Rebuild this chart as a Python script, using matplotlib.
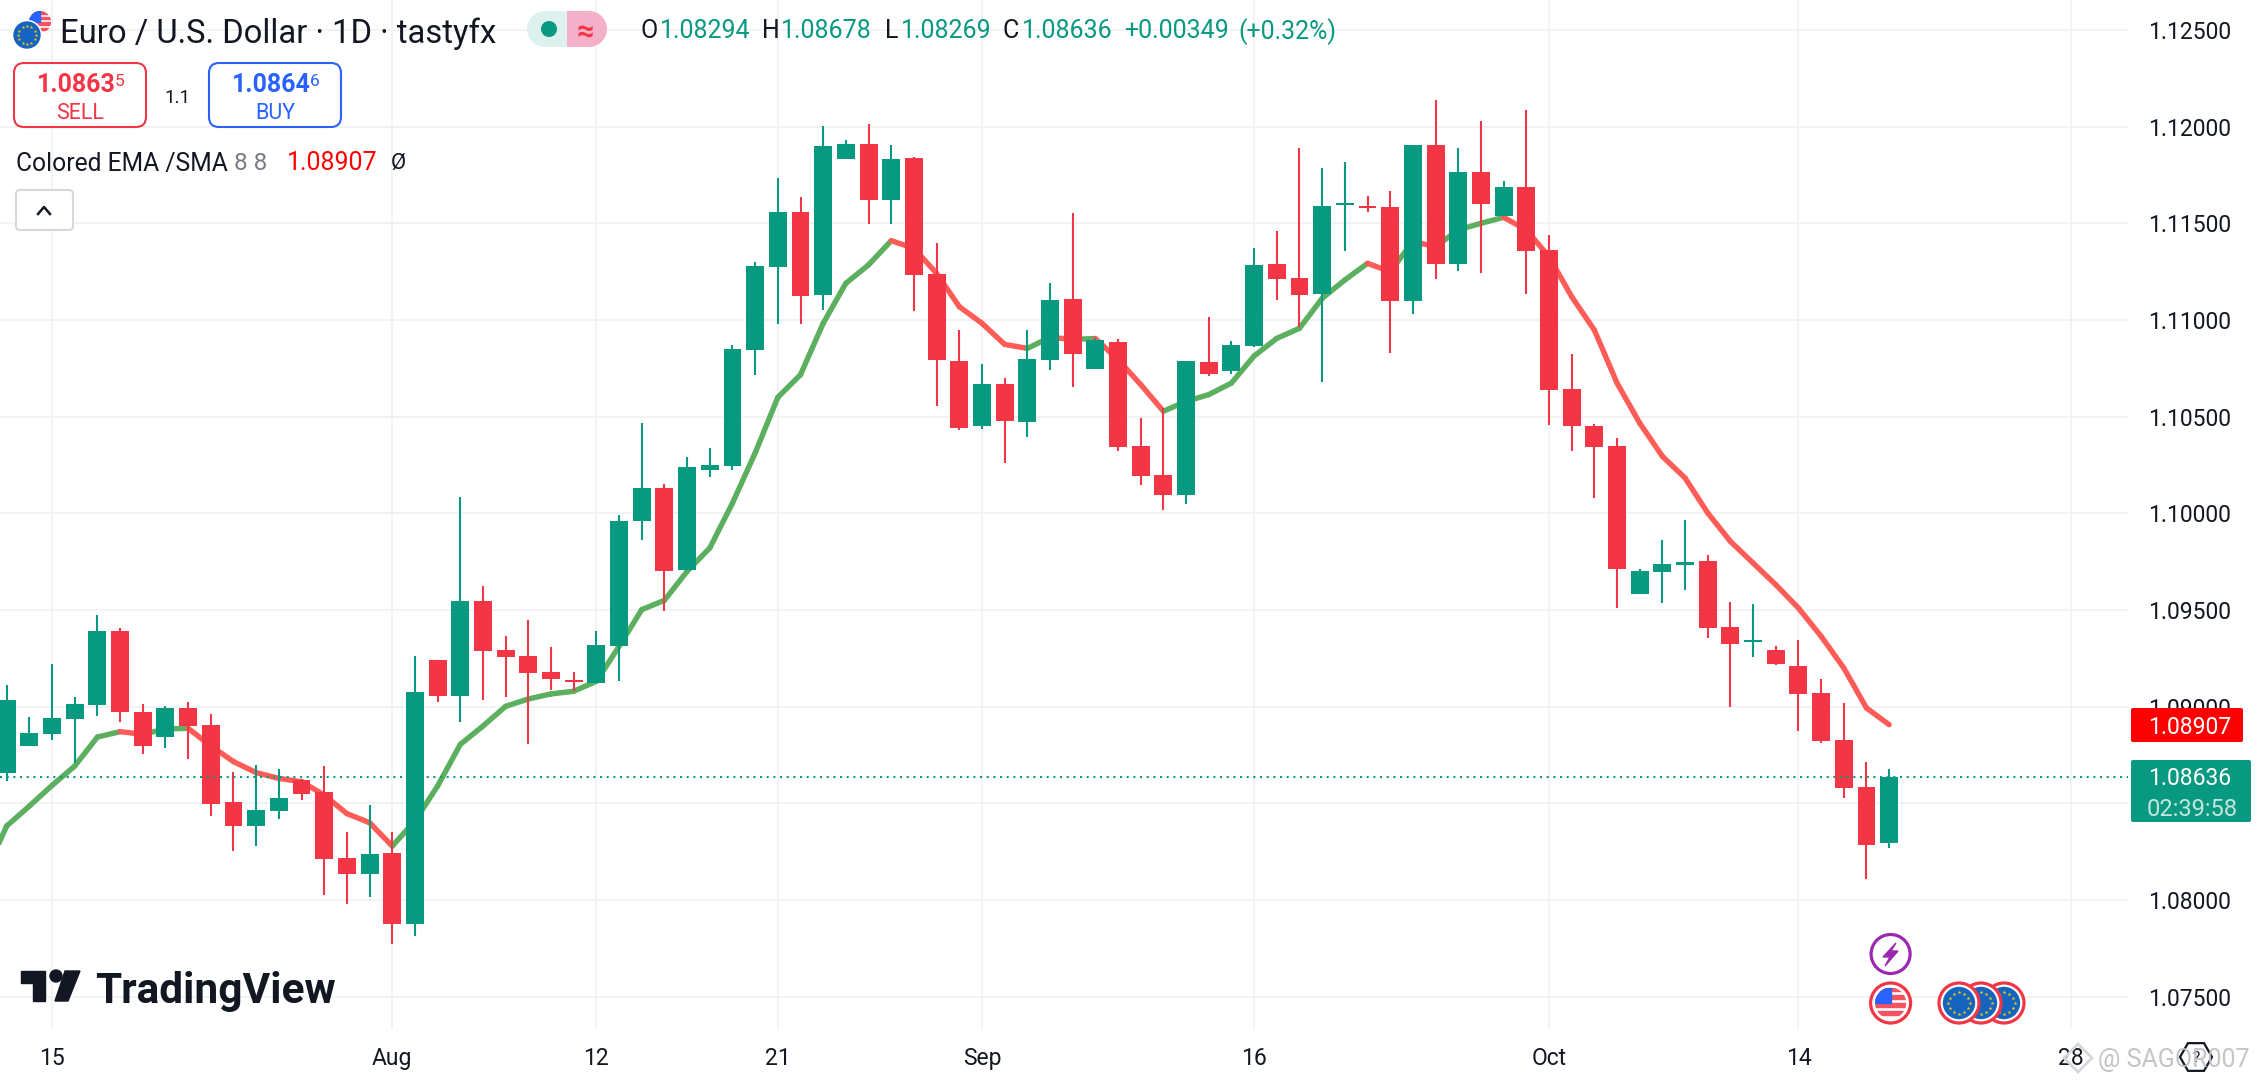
import matplotlib
matplotlib.use('Agg')
import matplotlib.pyplot as plt
from matplotlib.patches import Circle, FancyBboxPatch, Polygon, Rectangle, Wedge
import numpy as np

plt.rcParams['font.family'] = ['Roboto', 'DejaVu Sans']

opens = [1.08657, 1.08795, 1.08857, 1.08938, 1.0901, 1.09393, 1.08974, 1.08841, 1.08995, 1.08903,
         1.08505, 1.08381, 1.08459, 1.08619, 1.08557, 1.08216, 1.08133, 1.08241, 1.07874, 1.09243,
         1.09057, 1.09548, 1.09295, 1.09264, 1.09181, 1.0914, 1.09124, 1.09316, 1.09962, 1.10133,
         1.09709, 1.10226, 1.10247, 1.10845, 1.11274, 1.11559, 1.1113, 1.11833, 1.1191, 1.11621,
         1.11838, 1.11238, 1.1079, 1.10453, 1.10671, 1.10474, 1.10793, 1.11109, 1.10748, 1.10886,
         1.1035, 1.102, 1.10097, 1.10784, 1.10738, 1.10866, 1.1129, 1.11217, 1.11135, 1.11597,
         1.1159, 1.11585, 1.11098, 1.11905, 1.1129, 1.11766, 1.11538, 1.11688, 1.11362, 1.10645,
         1.10453, 1.1035, 1.09585, 1.09698, 1.09735, 1.09755, 1.09414, 1.09336, 1.09295, 1.09212,
         1.09073, 1.08826, 1.08583, 1.08294]
highs = [1.09114, 1.08947, 1.09223, 1.09052, 1.09476, 1.09409, 1.09016, 1.09002, 1.09026, 1.08964,
         1.0866, 1.08697, 1.08676, 1.08625, 1.08691, 1.0835, 1.0849, 1.0835, 1.09264, 1.09243,
         1.10086, 1.09626, 1.09367, 1.0945, 1.0931, 1.09181, 1.09393, 1.09993, 1.10469, 1.10153,
         1.10293, 1.1034, 1.10871, 1.113, 1.11735, 1.11636, 1.12003, 1.11931, 1.12014, 1.11905,
         1.11843, 1.11398, 1.10948, 1.10774, 1.10702, 1.10948, 1.11191, 1.11552, 1.10905, 1.10902,
         1.10495, 1.10545, 1.1079, 1.11016, 1.10892, 1.11372, 1.1146, 1.1189, 1.11786, 1.11817,
         1.11641, 1.11667, 1.11905, 1.12138, 1.1189, 1.1203, 1.11719, 1.12086, 1.1144, 1.10824,
         1.10464, 1.10391, 1.09714, 1.09864, 1.09967, 1.09783, 1.09543, 1.09533, 1.09316, 1.09347,
         1.09145, 1.09018, 1.08712, 1.08678]
lows = [1.08616, 1.08795, 1.08828, 1.0871, 1.0895, 1.0892, 1.08753, 1.08784, 1.08728, 1.08433,
        1.08252, 1.08278, 1.08417, 1.08516, 1.08024, 1.07978, 1.08014, 1.07771, 1.07812, 1.09026,
        1.0892, 1.09036, 1.09052, 1.08805, 1.09088, 1.09083, 1.09124, 1.09135, 1.09864, 1.09497,
        1.09709, 1.1019, 1.10226, 1.10717, 1.10979, 1.10979, 1.11052, 1.11833, 1.11497, 1.11497,
        1.11047, 1.10557, 1.10433, 1.10438, 1.10262, 1.10397, 1.10743, 1.10655, 1.10748, 1.10324,
        1.10148, 1.10019, 1.1005, 1.10712, 1.10722, 1.1086, 1.11104, 1.10964, 1.10681, 1.11357,
        1.11559, 1.1083, 1.11031, 1.11212, 1.11254, 1.11243, 1.11538, 1.11135, 1.10459, 1.10324,
        1.10081, 1.09512, 1.09585, 1.09538, 1.09605, 1.09357, 1.08999, 1.09259, 1.09217, 1.08874,
        1.0881, 1.08526, 1.08107, 1.08269]
closes = [1.09036, 1.08862, 1.08943, 1.09016, 1.09393, 1.08971, 1.08795, 1.08995, 1.08898, 1.08495,
          1.08381, 1.08464, 1.08526, 1.08547, 1.0821, 1.08133, 1.08236, 1.07874, 1.09078, 1.09057,
          1.09548, 1.0929, 1.09259, 1.09176, 1.09145, 1.0913, 1.0932, 1.09962, 1.10133, 1.09703,
          1.10241, 1.10252, 1.10848, 1.11279, 1.11559, 1.11124, 1.119, 1.1191, 1.11621, 1.11833,
          1.11233, 1.10793, 1.10443, 1.10671, 1.10479, 1.10797, 1.11103, 1.10824, 1.10897, 1.10345,
          1.10195, 1.10097, 1.1079, 1.10722, 1.10871, 1.11285, 1.11212, 1.1113, 1.1159, 1.11605,
          1.11579, 1.11098, 1.11905, 1.1129, 1.11766, 1.116, 1.11688, 1.11357, 1.1064, 1.10453,
          1.10345, 1.09714, 1.09704, 1.0974, 1.0975, 1.09409, 1.09326, 1.09347, 1.09223, 1.09068,
          1.08821, 1.08578, 1.08283, 1.08636]

# first value sits one bar left of the first candle
ema_values = [1.08124,
              1.08383, 1.08486, 1.08593, 1.08693, 1.08843, 1.08871, 1.08857, 1.08885, 1.08888, 1.08797,
              1.08716, 1.08659, 1.08629, 1.08612, 1.08543, 1.08447, 1.084, 1.08279, 1.08409, 1.0859,
              1.08805, 1.089, 1.09002, 1.0904, 1.09066, 1.0908, 1.09131, 1.09312, 1.09502, 1.0955,
              1.097, 1.09821, 1.10053, 1.10312, 1.106, 1.10717, 1.10983, 1.1119, 1.11285, 1.1141,
              1.11371, 1.11241, 1.11069, 1.10983, 1.10874, 1.10853, 1.1091, 1.109, 1.10904, 1.10795,
              1.10666, 1.10528, 1.10579, 1.10614, 1.10674, 1.10814, 1.10905, 1.10957, 1.11112, 1.11207,
              1.11293, 1.1125, 1.11406, 1.11379, 1.11466, 1.115, 1.11531, 1.11466, 1.11328, 1.11121,
              1.10948, 1.10674, 1.10467, 1.10295, 1.10183, 1.10002, 1.09855, 1.09743, 1.09631, 1.0951,
              1.09364, 1.092, 1.08993, 1.08907]

price_ticks = [1.125, 1.12, 1.115, 1.11, 1.105, 1.10, 1.095, 1.09, 1.085, 1.08, 1.075]
date_positions = [2, 17, 26, 34, 43, 55, 68, 79, 91]
date_labels = ['15', 'Aug', '12', '21', 'Sep', '16', 'Oct', '14', '28']

GREEN = '#089981'
RED = '#F23645'
INK = '#131722'
EMA_GREEN = '#5BAF5F'
EMA_RED = '#FF5C57'
GRID = '#F0F1F3'

W, H = 2258, 1084
fig = plt.figure(figsize=(W / 100, H / 100), dpi=100, facecolor='white')

# price pane, in bar index / price units
ax = fig.add_axes([0, (H - 1029) / H, 2128 / W, 1029 / H])
ax.set_xlim(-0.295, 93.53)
ax.set_ylim(1.07333, 1.12655)
for s in ax.spines.values():
    s.set_visible(False)

ax.yaxis.tick_right()
ax.set_yticks(price_ticks)
ax.set_yticklabels([f'{p:.5f}' for p in price_ticks])
ax.set_xticks(date_positions)
ax.set_xticklabels(date_labels)
ax.tick_params(axis='y', length=0, pad=14.2, labelsize=16.5, labelcolor=INK)
ax.tick_params(axis='x', length=0, pad=13, labelsize=16.5, labelcolor=INK)
ax.grid(True, color=GRID, linewidth=1.2)
ax.set_axisbelow(True)

idx = np.arange(len(closes))
ema_idx = np.arange(-1, len(closes))

# moving average, coloured segment by segment
for i in range(1, len(ema_values)):
    c = EMA_GREEN if ema_values[i] >= ema_values[i - 1] else EMA_RED
    ax.plot(ema_idx[i - 1:i + 1], ema_values[i - 1:i + 1], color=c, linewidth=3.9,
            solid_capstyle='round', zorder=2)

# candles
colors = [GREEN if c >= o else RED for o, c in zip(opens, closes)]
ax.vlines(idx, lows, highs, colors=colors, linewidth=1.5, zorder=3)
bottoms = np.minimum(opens, closes)
heights = np.abs(np.array(closes) - np.array(opens))
ax.bar(idx, heights, bottom=bottoms, width=0.79, color=colors, linewidth=0, zorder=3)

ax.axhline(closes[-1], color=GREEN, linewidth=1.5, linestyle=(0, (1, 2.2)), zorder=4)

# everything else is screen furniture, drawn in pixels
ov = fig.add_axes([0, 0, 1, 1], facecolor='none')
ov.set_xlim(0, W)
ov.set_ylim(H, 0)
ov.axis('off')


def label(x, y, s, color=INK, size=18, ha='left', **kw):
    ov.text(x, y, s, color=color, fontsize=size, ha=ha, va='center_baseline', **kw)


def eu_flag(cx, cy, r, zorder=6):
    ov.add_patch(Circle((cx, cy), r, color='#1565C0', zorder=zorder, clip_on=False))
    a = np.linspace(0, 2 * np.pi, 12, endpoint=False)
    ov.scatter(cx + r * 0.68 * np.cos(a), cy + r * 0.68 * np.sin(a), s=r * 0.55, marker='*',
               color='#F9C80E', linewidth=0, zorder=zorder + 0.1)


def us_flag(cx, cy, r, zorder=6):
    clip = Circle((cx, cy), r, transform=ov.transData)
    ov.add_patch(Circle((cx, cy), r, color='white', zorder=zorder))
    for k in range(4):
        st = Rectangle((cx - r, cy - r + k * 0.5 * r), 2 * r, 0.25 * r, color='#F7525F', zorder=zorder + 0.1)
        ov.add_patch(st)
        st.set_clip_path(clip)
    canton = Rectangle((cx - r, cy - r), r, r, color='#2962FF', zorder=zorder + 0.2)
    ov.add_patch(canton)
    canton.set_clip_path(clip)


# header
us_flag(40, 22, 11)
ov.add_patch(Circle((27, 35), 14.5, color='white', zorder=6.9))
eu_flag(27, 35, 13, zorder=7)
label(60, 30, 'Euro / U.S. Dollar \u00b7 1D \u00b7 tastyfx', size=23.6)

ov.add_patch(Wedge((545, 29), 18, 90, 270, color='#DDF1EE', linewidth=0))
ov.add_patch(Rectangle((545, 11), 22, 36, color='#DDF1EE', linewidth=0))
ov.add_patch(Wedge((589, 29), 18, 270, 90, color='#F4B0C8', linewidth=0))
ov.add_patch(Rectangle((567, 11), 22, 36, color='#F4B0C8', linewidth=0))
ov.add_patch(Circle((549, 29), 8, color=GREEN, linewidth=0))
label(585, 29, '\u2248', color=RED, size=22, ha='center', fontweight='bold')

ohlc = [(640, 'O', INK), (660, '1.08294', GREEN), (762, 'H', INK), (781, '1.08678', GREEN),
        (885, 'L', INK), (901, '1.08269', GREEN), (1003, 'C', INK), (1022, '1.08636', GREEN),
        (1124, '+0.00349', GREEN), (1238, '(+0.32%)', GREEN)]
for x, s, c in ohlc:
    label(x, 29, s, color=c, size=18)

# sell / buy boxes
for x0, c in [(13, RED), (208, '#2962FF')]:
    ov.add_patch(FancyBboxPatch((x0 + 1, 63), 132, 64, boxstyle='round,pad=0,rounding_size=10',
                                facecolor='white', edgecolor=c, linewidth=1.5))
label(37, 83, '1.0863', color=RED, size=18, fontweight='bold')
label(115, 80, '5', color=RED, size=12.5)
label(80, 111, 'SELL', color=RED, size=15.5, ha='center')
label(177, 96, '1.1', size=13.5, ha='center')
label(232, 83, '1.0864', color='#2962FF', size=18, fontweight='bold')
label(310, 80, '6', color='#2962FF', size=12.5)
label(275, 111, 'BUY', color='#2962FF', size=15.5, ha='center')

# indicator legend
label(16, 161, 'Colored EMA /SMA', size=17.7)
label(234, 161, '8 8', color='#787B86', size=17.5)
label(287, 161, '1.08907', color='#FF0000', size=18)
label(391, 161, '\u00d8', size=16)

ov.add_patch(FancyBboxPatch((16, 190), 57, 40, boxstyle='round,pad=0,rounding_size=4',
                            facecolor='white', edgecolor='#D6D8DE', linewidth=1.5))
ov.plot([38, 44, 50], [214, 207, 214], color=INK, linewidth=1.8)

# price axis tags
ov.add_patch(FancyBboxPatch((2131, 708), 112, 34, boxstyle='round,pad=0,rounding_size=2',
                            facecolor='#FF0000', edgecolor='none'))
label(2148, 725, '1.08907', color='white', size=16.5)
ov.add_patch(FancyBboxPatch((2131, 760), 120, 62, boxstyle='round,pad=0,rounding_size=2',
                            facecolor=GREEN, edgecolor='none'))
label(2148, 776, '1.08636', color='white', size=16.5)
label(2147, 807, '02:39:58', color='#C4E6DF', size=17)

# TradingView logo
ov.add_patch(Polygon([(21, 971), (45, 971), (45, 1001), (32.5, 1001), (32.5, 983), (21, 983)], color=INK))
ov.add_patch(Circle((56, 976), 6, color=INK))
ov.add_patch(Polygon([(65, 971), (80, 971), (68, 1001), (55, 1001)], color=INK))
label(95, 987, 'TradingView', size=30.5, fontweight='bold')

# event markers
ov.add_patch(Circle((1890.6, 954), 19.5, facecolor='white', edgecolor='#9C27B0', linewidth=2.3, zorder=5))
ov.add_patch(Polygon([(1896, 943), (1883, 957), (1890, 957), (1885, 966), (1898, 951), (1891, 951)],
                     color='#9C27B0', zorder=6))
ov.add_patch(Circle((1890.6, 1003), 20, facecolor='white', edgecolor=RED, linewidth=2.3, zorder=5))
us_flag(1890.6, 1003, 15.5)
for n, x in enumerate([2004, 1981, 1959]):
    ov.add_patch(Circle((x, 1003), 20, facecolor='white', edgecolor=RED, linewidth=2.3, zorder=5 + n))
    eu_flag(x, 1003, 15.5, zorder=5.5 + n)

# hexagon badge and watermark
hex_a = np.deg2rad(np.arange(0, 360, 60))
ov.add_patch(Polygon(np.c_[2196 + 16 * np.cos(hex_a), 1057 + 16 * np.sin(hex_a)], fill=False,
                     edgecolor=INK, linewidth=1.6))
label(2196, 1057, '?', size=11, ha='center')
ov.add_patch(Polygon([(2078, 1044), (2092, 1058), (2078, 1072), (2064, 1058)], fill=False,
                     edgecolor='#D5D7DB', linewidth=2))
label(2098, 1057, '@ SAGOR007', color='#BDBFC3', size=18, alpha=0.9)

fig.savefig('out.png', dpi=100)
